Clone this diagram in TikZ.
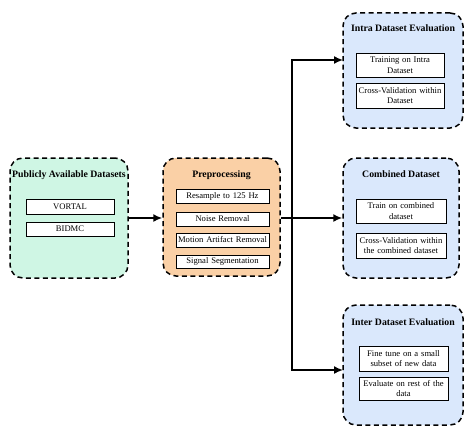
\documentclass[tikz,border=0pt]{standalone}
\usepackage{fontspec}
\usetikzlibrary{arrows.meta}
\setmainfont{Liberation Serif}
\definecolor{mintfill}{HTML}{CFF6E4}
\definecolor{peachfill}{HTML}{FAD0A6}
\definecolor{bluefill}{HTML}{DAE8FC}
\tikzset{
	group/.style={draw, line width=1.5pt, dash pattern=on 5pt off 3.5pt, rounded corners=13pt, inner sep=0pt},
	item/.style={draw, line width=0.6pt, fill=white, align=center, inner sep=1pt, text width=#1, font=\fontsize{8.6}{10.8}\selectfont},
	item/.default=86pt,
	grouptitle/.style={font=\fontsize{9.8}{11}\selectfont\bfseries},
	flow/.style={-{Latex[length=9pt, width=8pt]}, line width=1.6pt}
}
\begin{document}
	\begin{tikzpicture}[x=1pt, y=-1pt]
		\useasboundingbox (0,0) rectangle (474,428);
		\node[group, fill=mintfill, minimum width=118pt, minimum height=120pt] (pub) at (69,218) {};
		\node[group, fill=peachfill, minimum width=117pt, minimum height=118pt] (prep) at (221.5,217) {};
		\node[group, fill=bluefill, minimum width=120pt, minimum height=115pt] (intra) at (403,70.5) {};
		\node[group, fill=bluefill, minimum width=116pt, minimum height=120pt] (comb) at (401,218) {};
		\node[group, fill=bluefill, minimum width=120pt, minimum height=120pt] (inter) at (403,365) {};
		\node[grouptitle] (pubT) at (69,175) {Publicly Available Datasets};
		\node[grouptitle] (prepT) at (221.5,175) {Preprocessing};
		\node[grouptitle] (intraT) at (403,28) {Intra Dataset Evaluation};
		\node[grouptitle] (combT) at (401,174) {Combined Dataset};
		\node[grouptitle] (interT) at (403,322) {Inter Dataset Evaluation};
		\node[item, minimum height=15pt] (vortal) at (70,206.5) {VORTAL};
		\node[item, minimum height=14pt] (bidmc) at (70,229) {BIDMC};
		\node[item=91pt, minimum height=14pt] (resample) at (222.5,196) {Resample to 125 Hz};
		\node[item=91pt, minimum height=14pt] (noise) at (222.5,219) {Noise Removal};
		\node[item=91pt, minimum height=14pt] (motion) at (222.5,240) {Motion Artifact Removal};
		\node[item=91pt, minimum height=13pt] (segment) at (222.5,261.5) {Signal Segmentation};
		\node[item, minimum height=24pt] (trainIntra) at (400,65) {Training on Intra\\Dataset};
		\node[item, minimum height=25pt] (cvIntra) at (400,95.5) {Cross-Validation within\\Dataset};
		\node[item=88pt, minimum height=24pt] (trainComb) at (401,211) {Train on combined\\dataset};
		\node[item=88pt, minimum height=25pt] (cvComb) at (401,245.5) {Cross-Validation within\\the combined dataset};
		\node[item=87pt, minimum height=25pt] (fineTune) at (403.5,358.5) {Fine tune on a small\\subset of new data};
		\node[item=87pt, minimum height=23pt] (evalRest) at (403.5,388.5) {Evaluate on rest of the\\data};
		\coordinate (split) at (292,218);
		\coordinate (intraIn) at (343,60);
		\coordinate (interIn) at (343,370);
		\draw [flow] (pub.east |- 0,218)--(prep.west |- 0,218);
		\draw [flow] (prep.east |- split)--(comb.west |- split);
		\draw [flow] (split)|-(intraIn);
		\draw [flow] (split)|-(interIn);
	\end{tikzpicture}
\end{document}
